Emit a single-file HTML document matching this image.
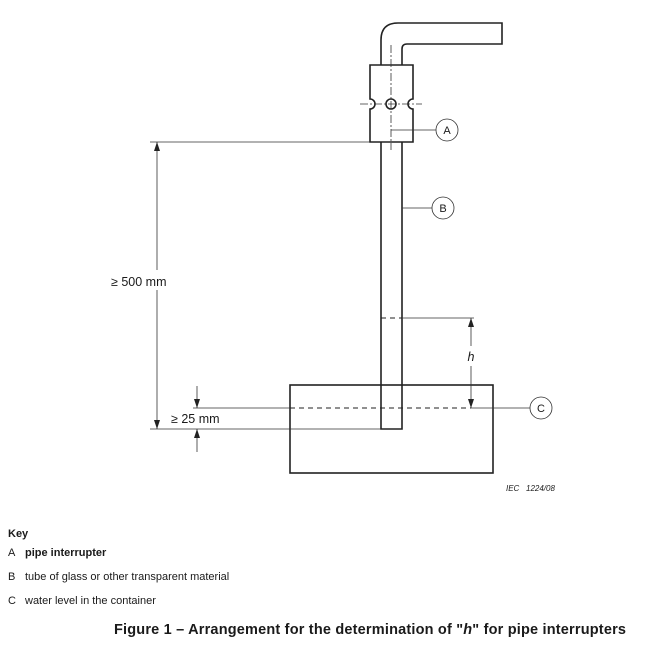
<!DOCTYPE html>
<html><head><meta charset="utf-8"><style>
html,body{margin:0;padding:0;background:#fff;}
svg{display:block;}
text{font-family:"Liberation Sans",Arial,sans-serif;fill:#1a1a1a;}
</style></head><body>
<svg width="650" height="648" viewBox="0 0 650 648" xmlns="http://www.w3.org/2000/svg">
<g fill="none" stroke="#222" stroke-width="1.6">
<path d="M381,65 V40 Q381,23 398,23 H502 V44 H407 Q402,44 402,49 V65"/>
<path d="M370,65 H413 V99 A5,5 0 0 0 413,109 V142 H370 V109 A5,5 0 0 0 370,99 Z"/>
<circle cx="391" cy="104" r="5"/>
<path d="M381,142 V429 H402 V142"/>
<rect x="290" y="385" width="203" height="88"/>
</g>
<g stroke="#333" stroke-width="0.8" fill="none">
<path d="M391,45 V150" stroke-dasharray="8,2,2,2"/>
<path d="M360,104 H422" stroke-dasharray="8,2,2,2"/>
<line x1="391" y1="130" x2="436" y2="130"/>
<circle cx="447" cy="130" r="11"/>
<line x1="402" y1="208" x2="432" y2="208"/>
<circle cx="443" cy="208" r="11"/>
<circle cx="541" cy="408" r="11"/>
<line x1="471" y1="408" x2="530" y2="408"/>
<line x1="150" y1="142" x2="370" y2="142"/>
<line x1="150" y1="429" x2="381" y2="429"/>
<line x1="157" y1="142" x2="157" y2="270"/>
<line x1="157" y1="290" x2="157" y2="429"/>
<line x1="402" y1="318" x2="474" y2="318"/>
<line x1="471" y1="318" x2="471" y2="346"/>
<line x1="471" y1="366" x2="471" y2="408"/>
<line x1="193" y1="408" x2="290" y2="408"/>
<line x1="197" y1="386" x2="197" y2="408"/>
<line x1="197" y1="452" x2="197" y2="429"/>
</g>
<g stroke="#222" stroke-width="1" fill="none" stroke-dasharray="5,4">
<line x1="381" y1="318" x2="402" y2="318"/>
<line x1="290" y1="408" x2="471" y2="408"/>
</g>
<g fill="#222">
<path d="M157,142 L154,151 L160,151 z"/>
<path d="M157,429 L154,420 L160,420 z"/>
<path d="M471,318 L468,327 L474,327 z"/>
<path d="M471,408 L468,399 L474,399 z"/>
<path d="M197,408 L194,399 L200,399 z"/>
<path d="M197,429 L194,438 L200,438 z"/>
</g>
<text x="447" y="134" font-size="11" text-anchor="middle">A</text>
<text x="443" y="212" font-size="11" text-anchor="middle">B</text>
<text x="541" y="412" font-size="11" text-anchor="middle">C</text>
<text x="111" y="286" font-size="12.5">≥ 500 mm</text>
<text x="471" y="361" font-size="12.5" font-style="italic" text-anchor="middle">h</text>
<text x="171" y="423" font-size="12.5">≥ 25 mm</text>
<text x="506" y="491" font-size="8" font-style="italic">IEC&#160;&#160;&#160;1224/08</text>
<text x="8" y="537" font-size="11" font-weight="bold">Key</text>
<text x="8" y="556" font-size="11">A</text><text x="25" y="556" font-size="11" font-weight="bold">pipe interrupter</text>
<text x="8" y="580" font-size="11">B</text><text x="25" y="580" font-size="11">tube of glass or other transparent material</text>
<text x="8" y="604" font-size="11">C</text><text x="25" y="604" font-size="11">water level in the container</text>
<text x="114" y="634" font-size="14.5" font-weight="bold" textLength="512">Figure 1 – Arrangement for the determination of "<tspan font-style="italic">h</tspan>" for pipe interrupters</text>
</svg>
</body></html>
